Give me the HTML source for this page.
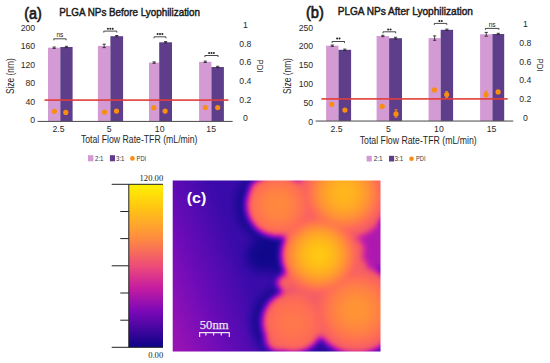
<!DOCTYPE html>
<html><head><meta charset="utf-8"><style>
html,body{margin:0;padding:0;background:#fff;width:550px;height:363px;overflow:hidden}
svg{display:block}
</style></head><body>
<svg width="550" height="363" viewBox="0 0 550 363">
<rect width="550" height="363" fill="#fff"/>
<text x="24.2" y="18.6" font-size="16.2" text-anchor="start" font-weight="normal" fill="#1a1a1a" font-family="'Liberation Sans',sans-serif" textLength="17.6" lengthAdjust="spacingAndGlyphs" stroke="#1a1a1a" stroke-width="0.7">(a)</text>
<text x="59.3" y="15.8" font-size="10.6" text-anchor="start" font-weight="normal" fill="#1a1a1a" font-family="'Liberation Sans',sans-serif" textLength="140.7" lengthAdjust="spacingAndGlyphs" stroke="#1a1a1a" stroke-width="0.45">PLGA NPs Before Lyophilization</text>
<text x="35.2" y="123.39999999999999" font-size="8.7" text-anchor="end" font-weight="normal" fill="#2a2a2a" font-family="'Liberation Sans',sans-serif" >0</text>
<text x="35.2" y="104.85999999999999" font-size="8.7" text-anchor="end" font-weight="normal" fill="#2a2a2a" font-family="'Liberation Sans',sans-serif" >40</text>
<text x="35.2" y="86.32" font-size="8.7" text-anchor="end" font-weight="normal" fill="#2a2a2a" font-family="'Liberation Sans',sans-serif" >80</text>
<text x="35.2" y="67.78" font-size="8.7" text-anchor="end" font-weight="normal" fill="#2a2a2a" font-family="'Liberation Sans',sans-serif" >120</text>
<text x="35.2" y="49.24" font-size="8.7" text-anchor="end" font-weight="normal" fill="#2a2a2a" font-family="'Liberation Sans',sans-serif" >160</text>
<text x="35.2" y="30.70000000000001" font-size="8.7" text-anchor="end" font-weight="normal" fill="#2a2a2a" font-family="'Liberation Sans',sans-serif" >200</text>
<text x="245.4" y="121.1" font-size="8.7" text-anchor="middle" font-weight="normal" fill="#2a2a2a" font-family="'Liberation Sans',sans-serif" >0</text>
<text x="245.4" y="102.55" font-size="8.7" text-anchor="middle" font-weight="normal" fill="#2a2a2a" font-family="'Liberation Sans',sans-serif" >0.2</text>
<text x="245.4" y="84.0" font-size="8.7" text-anchor="middle" font-weight="normal" fill="#2a2a2a" font-family="'Liberation Sans',sans-serif" >0.4</text>
<text x="245.4" y="65.44999999999999" font-size="8.7" text-anchor="middle" font-weight="normal" fill="#2a2a2a" font-family="'Liberation Sans',sans-serif" >0.6</text>
<text x="245.4" y="46.9" font-size="8.7" text-anchor="middle" font-weight="normal" fill="#2a2a2a" font-family="'Liberation Sans',sans-serif" >0.8</text>
<text x="245.4" y="28.35" font-size="8.7" text-anchor="middle" font-weight="normal" fill="#2a2a2a" font-family="'Liberation Sans',sans-serif" >1</text>
<text x="0" y="0" font-size="10.4" text-anchor="middle" fill="#2a2a2a" font-family="'Liberation Sans',sans-serif" textLength="35.8" lengthAdjust="spacingAndGlyphs" transform="translate(13.9,76.2) rotate(-90)">Size (nm)</text>
<text x="0" y="0" font-size="9.8" text-anchor="middle" fill="#2a2a2a" font-family="'Liberation Sans',sans-serif" textLength="13" lengthAdjust="spacingAndGlyphs" transform="translate(257.4,66) rotate(90)">PDI</text>
<rect x="48" y="47.7" width="12.299999999999997" height="73.7" fill="#d39ad3"/>
<rect x="97.9" y="45.9" width="12.5" height="75.5" fill="#d39ad3"/>
<rect x="149" y="62.6" width="10.199999999999989" height="58.800000000000004" fill="#d39ad3"/>
<rect x="199.1" y="61.8" width="12.300000000000011" height="59.60000000000001" fill="#d39ad3"/>
<rect x="60.3" y="47" width="12.299999999999997" height="74.4" fill="#5e3e8a"/>
<rect x="110.4" y="36.2" width="12.699999999999989" height="85.2" fill="#5e3e8a"/>
<rect x="159.2" y="42.3" width="12.800000000000011" height="79.10000000000001" fill="#5e3e8a"/>
<rect x="211.4" y="67" width="12.5" height="54.400000000000006" fill="#5e3e8a"/>
<path d="M52.55 47.0H55.75M54.15 47.0V48.400000000000006M52.55 48.400000000000006H55.75" stroke="#2a2a2a" stroke-width="0.9" fill="none"/>
<path d="M102.55000000000001 44.199999999999996H105.75M104.15 44.199999999999996V47.6M102.55000000000001 47.6H105.75" stroke="#2a2a2a" stroke-width="0.9" fill="none"/>
<path d="M152.5 61.9H155.7M154.1 61.9V63.300000000000004M152.5 63.300000000000004H155.7" stroke="#2a2a2a" stroke-width="0.9" fill="none"/>
<path d="M203.65 61.099999999999994H206.85M205.25 61.099999999999994V62.5M203.65 62.5H206.85" stroke="#2a2a2a" stroke-width="0.9" fill="none"/>
<path d="M64.85 46.3H68.04999999999998M66.44999999999999 46.3V47.7M64.85 47.7H68.04999999999998" stroke="#2a2a2a" stroke-width="0.9" fill="none"/>
<path d="M115.15 35.5H118.35M116.75 35.5V36.900000000000006M115.15 36.900000000000006H118.35" stroke="#2a2a2a" stroke-width="0.9" fill="none"/>
<path d="M164.0 41.599999999999994H167.2M165.6 41.599999999999994V43.0M164.0 43.0H167.2" stroke="#2a2a2a" stroke-width="0.9" fill="none"/>
<path d="M216.05 66.3H219.25M217.65 66.3V67.7M216.05 67.7H219.25" stroke="#2a2a2a" stroke-width="0.9" fill="none"/>
<rect x="37.5" y="120.9" width="195.1" height="1.1" fill="#595959"/>
<rect x="44.5" y="99.3" width="183.9" height="1.6" fill="#e23d3a"/>
<circle cx="54.4" cy="111.3" r="2.6" fill="#f98d12"/>
<circle cx="65.8" cy="112.4" r="2.6" fill="#f98d12"/>
<circle cx="104.5" cy="112.1" r="2.6" fill="#f98d12"/>
<circle cx="116.5" cy="111.1" r="2.6" fill="#f98d12"/>
<circle cx="153.9" cy="107.7" r="2.6" fill="#f98d12"/>
<circle cx="165.1" cy="111.1" r="2.6" fill="#f98d12"/>
<circle cx="205.3" cy="107.6" r="2.6" fill="#f98d12"/>
<circle cx="217.7" cy="107.6" r="2.6" fill="#f98d12"/>
<path d="M53.8 40.3V38.8H66.1V40.3" stroke="#333" stroke-width="0.9" fill="none"/>
<text x="59.949999999999996" y="36.6" font-size="6.6" text-anchor="middle" font-weight="normal" fill="#222" font-family="'Liberation Sans',sans-serif" >ns</text>
<path d="M103.8 32.6V31.1H116.8V32.6" stroke="#333" stroke-width="0.9" fill="none"/>
<circle cx="107.89999999999999" cy="28.8" r="1.0" fill="#222"/>
<circle cx="110.3" cy="28.8" r="1.0" fill="#222"/>
<circle cx="112.7" cy="28.8" r="1.0" fill="#222"/>
<path d="M154.1 38.3V36.8H165.9V38.3" stroke="#333" stroke-width="0.9" fill="none"/>
<circle cx="157.6" cy="34.099999999999994" r="1.0" fill="#222"/>
<circle cx="160.0" cy="34.099999999999994" r="1.0" fill="#222"/>
<circle cx="162.4" cy="34.099999999999994" r="1.0" fill="#222"/>
<path d="M204.9 57.0V55.5H218.1V57.0" stroke="#333" stroke-width="0.9" fill="none"/>
<circle cx="209.1" cy="53.0" r="1.0" fill="#222"/>
<circle cx="211.5" cy="53.0" r="1.0" fill="#222"/>
<circle cx="213.9" cy="53.0" r="1.0" fill="#222"/>
<text x="58.5" y="132.0" font-size="8.7" text-anchor="middle" font-weight="normal" fill="#2a2a2a" font-family="'Liberation Sans',sans-serif" >2.5</text>
<text x="109.1" y="132.0" font-size="8.7" text-anchor="middle" font-weight="normal" fill="#2a2a2a" font-family="'Liberation Sans',sans-serif" >5</text>
<text x="159.7" y="132.0" font-size="8.7" text-anchor="middle" font-weight="normal" fill="#2a2a2a" font-family="'Liberation Sans',sans-serif" >10</text>
<text x="211.2" y="132.0" font-size="8.7" text-anchor="middle" font-weight="normal" fill="#2a2a2a" font-family="'Liberation Sans',sans-serif" >15</text>
<text x="80.9" y="143.0" font-size="10.5" text-anchor="start" font-weight="normal" fill="#262626" font-family="'Liberation Sans',sans-serif" textLength="116.6" lengthAdjust="spacingAndGlyphs" >Total Flow Rate-TFR (mL/min)</text>
<rect x="88" y="155.2" width="5.400000000000006" height="6.100000000000023" fill="#d39ad3"/>
<rect x="109.9" y="155.2" width="5.099999999999994" height="6.100000000000023" fill="#5e3e8a"/>
<circle cx="132.4" cy="158.4" r="2.3" fill="#f98d12"/>
<text x="95" y="161" font-size="6.6" text-anchor="start" font-weight="normal" fill="#333" font-family="'Liberation Sans',sans-serif" textLength="8.5" lengthAdjust="spacingAndGlyphs" >2:1</text>
<text x="116" y="161" font-size="6.6" text-anchor="start" font-weight="normal" fill="#333" font-family="'Liberation Sans',sans-serif" textLength="8.5" lengthAdjust="spacingAndGlyphs" >3:1</text>
<text x="136.6" y="161" font-size="6.6" text-anchor="start" font-weight="normal" fill="#333" font-family="'Liberation Sans',sans-serif" textLength="9.599999999999994" lengthAdjust="spacingAndGlyphs" >PDI</text>
<text x="305.9" y="18.4" font-size="16.2" text-anchor="start" font-weight="normal" fill="#1a1a1a" font-family="'Liberation Sans',sans-serif" textLength="17.9" lengthAdjust="spacingAndGlyphs" stroke="#1a1a1a" stroke-width="0.7">(b)</text>
<text x="337.7" y="14.7" font-size="10.6" text-anchor="start" font-weight="normal" fill="#1a1a1a" font-family="'Liberation Sans',sans-serif" textLength="135.2" lengthAdjust="spacingAndGlyphs" stroke="#1a1a1a" stroke-width="0.45">PLGA NPs After Lyophilization</text>
<text x="313.2" y="124.5" font-size="8.7" text-anchor="end" font-weight="normal" fill="#2a2a2a" font-family="'Liberation Sans',sans-serif" >0</text>
<text x="313.2" y="105.7" font-size="8.7" text-anchor="end" font-weight="normal" fill="#2a2a2a" font-family="'Liberation Sans',sans-serif" >50</text>
<text x="313.2" y="86.9" font-size="8.7" text-anchor="end" font-weight="normal" fill="#2a2a2a" font-family="'Liberation Sans',sans-serif" >100</text>
<text x="313.2" y="68.1" font-size="8.7" text-anchor="end" font-weight="normal" fill="#2a2a2a" font-family="'Liberation Sans',sans-serif" >150</text>
<text x="313.2" y="49.300000000000004" font-size="8.7" text-anchor="end" font-weight="normal" fill="#2a2a2a" font-family="'Liberation Sans',sans-serif" >200</text>
<text x="313.2" y="30.500000000000007" font-size="8.7" text-anchor="end" font-weight="normal" fill="#2a2a2a" font-family="'Liberation Sans',sans-serif" >250</text>
<text x="525.3" y="121.1" font-size="8.7" text-anchor="middle" font-weight="normal" fill="#2a2a2a" font-family="'Liberation Sans',sans-serif" >0</text>
<text x="525.3" y="102.28" font-size="8.7" text-anchor="middle" font-weight="normal" fill="#2a2a2a" font-family="'Liberation Sans',sans-serif" >0.2</text>
<text x="525.3" y="83.46" font-size="8.7" text-anchor="middle" font-weight="normal" fill="#2a2a2a" font-family="'Liberation Sans',sans-serif" >0.4</text>
<text x="525.3" y="64.64" font-size="8.7" text-anchor="middle" font-weight="normal" fill="#2a2a2a" font-family="'Liberation Sans',sans-serif" >0.6</text>
<text x="525.3" y="45.82" font-size="8.7" text-anchor="middle" font-weight="normal" fill="#2a2a2a" font-family="'Liberation Sans',sans-serif" >0.8</text>
<text x="525.3" y="27.000000000000007" font-size="8.7" text-anchor="middle" font-weight="normal" fill="#2a2a2a" font-family="'Liberation Sans',sans-serif" >1</text>
<text x="0" y="0" font-size="10.4" text-anchor="middle" fill="#2a2a2a" font-family="'Liberation Sans',sans-serif" textLength="35.8" lengthAdjust="spacingAndGlyphs" transform="translate(291.4,76) rotate(-90)">Size (nm)</text>
<text x="0" y="0" font-size="9.8" text-anchor="middle" fill="#2a2a2a" font-family="'Liberation Sans',sans-serif" textLength="13" lengthAdjust="spacingAndGlyphs" transform="translate(537.4000000000001,65) rotate(90)">PDI</text>
<rect x="326.1" y="45.7" width="12.399999999999977" height="75.3" fill="#d39ad3"/>
<rect x="376.6" y="36" width="12.5" height="85.0" fill="#d39ad3"/>
<rect x="428.6" y="38.1" width="12.099999999999966" height="82.9" fill="#d39ad3"/>
<rect x="480.1" y="34.3" width="12.299999999999955" height="86.7" fill="#d39ad3"/>
<rect x="338.5" y="49.8" width="12.600000000000023" height="71.2" fill="#5e3e8a"/>
<rect x="389.1" y="38.2" width="12.899999999999977" height="82.8" fill="#5e3e8a"/>
<rect x="440.7" y="29.8" width="12.400000000000034" height="91.2" fill="#5e3e8a"/>
<rect x="492.4" y="34" width="11.800000000000011" height="87.0" fill="#5e3e8a"/>
<path d="M330.7 45.0H333.90000000000003M332.3 45.0V46.400000000000006M330.7 46.400000000000006H333.90000000000003" stroke="#2a2a2a" stroke-width="0.9" fill="none"/>
<path d="M381.25 35.3H384.45000000000005M382.85 35.3V36.7M381.25 36.7H384.45000000000005" stroke="#2a2a2a" stroke-width="0.9" fill="none"/>
<path d="M433.04999999999995 35.9H436.25M434.65 35.9V40.300000000000004M433.04999999999995 40.300000000000004H436.25" stroke="#2a2a2a" stroke-width="0.9" fill="none"/>
<path d="M484.65 32.4H487.85M486.25 32.4V36.199999999999996M484.65 36.199999999999996H487.85" stroke="#2a2a2a" stroke-width="0.9" fill="none"/>
<path d="M343.2 49.099999999999994H346.40000000000003M344.8 49.099999999999994V50.5M343.2 50.5H346.40000000000003" stroke="#2a2a2a" stroke-width="0.9" fill="none"/>
<path d="M393.95 37.300000000000004H397.15000000000003M395.55 37.300000000000004V39.1M393.95 39.1H397.15000000000003" stroke="#2a2a2a" stroke-width="0.9" fill="none"/>
<path d="M445.29999999999995 29.1H448.5M446.9 29.1V30.5M445.29999999999995 30.5H448.5" stroke="#2a2a2a" stroke-width="0.9" fill="none"/>
<path d="M496.69999999999993 33.3H499.9M498.29999999999995 33.3V34.7M496.69999999999993 34.7H499.9" stroke="#2a2a2a" stroke-width="0.9" fill="none"/>
<rect x="315.6" y="120.5" width="197.69999999999993" height="1.1" fill="#595959"/>
<rect x="321.4" y="98.10000000000001" width="186.3" height="1.6" fill="#e23d3a"/>
<circle cx="331.7" cy="104.3" r="2.6" fill="#f98d12"/>
<circle cx="344.9" cy="110.1" r="2.6" fill="#f98d12"/>
<circle cx="382.2" cy="106.4" r="2.6" fill="#f98d12"/>
<path d="M394.5 109.8H397.5M396 109.8V117.2M394.5 117.2H397.5" stroke="#f98d12" stroke-width="0.9" fill="none"/>
<circle cx="396" cy="113.9" r="2.6" fill="#f98d12"/>
<circle cx="434.5" cy="89.9" r="2.6" fill="#f98d12"/>
<path d="M445.2 91.6H448.2M446.7 91.6V97.4M445.2 97.4H448.2" stroke="#f98d12" stroke-width="0.9" fill="none"/>
<circle cx="446.7" cy="94.5" r="2.6" fill="#f98d12"/>
<path d="M484.5 91.2H487.5M486 91.2V97M484.5 97H487.5" stroke="#f98d12" stroke-width="0.9" fill="none"/>
<circle cx="486" cy="94.5" r="2.6" fill="#f98d12"/>
<circle cx="498.1" cy="91.9" r="2.6" fill="#f98d12"/>
<path d="M332.1 43.0V41.5H344.5V43.0" stroke="#333" stroke-width="0.9" fill="none"/>
<circle cx="337.1" cy="38.5" r="1.0" fill="#222"/>
<circle cx="339.5" cy="38.5" r="1.0" fill="#222"/>
<path d="M383 33.3V31.8H395.7V33.3" stroke="#333" stroke-width="0.9" fill="none"/>
<circle cx="388.15000000000003" cy="29.400000000000002" r="1.0" fill="#222"/>
<circle cx="390.55" cy="29.400000000000002" r="1.0" fill="#222"/>
<path d="M434.3 24.9V23.4H446.8V24.9" stroke="#333" stroke-width="0.9" fill="none"/>
<circle cx="439.35" cy="21.0" r="1.0" fill="#222"/>
<circle cx="441.75" cy="21.0" r="1.0" fill="#222"/>
<path d="M485.4 29.9V28.4H498.9V29.9" stroke="#333" stroke-width="0.9" fill="none"/>
<text x="492.15" y="27.3" font-size="6.6" text-anchor="middle" font-weight="normal" fill="#222" font-family="'Liberation Sans',sans-serif" >ns</text>
<text x="336.5" y="132.4" font-size="8.7" text-anchor="middle" font-weight="normal" fill="#2a2a2a" font-family="'Liberation Sans',sans-serif" >2.5</text>
<text x="388.3" y="132.4" font-size="8.7" text-anchor="middle" font-weight="normal" fill="#2a2a2a" font-family="'Liberation Sans',sans-serif" >5</text>
<text x="438.9" y="132.4" font-size="8.7" text-anchor="middle" font-weight="normal" fill="#2a2a2a" font-family="'Liberation Sans',sans-serif" >10</text>
<text x="491.5" y="132.4" font-size="8.7" text-anchor="middle" font-weight="normal" fill="#2a2a2a" font-family="'Liberation Sans',sans-serif" >15</text>
<text x="359.7" y="143.8" font-size="10.5" text-anchor="start" font-weight="normal" fill="#262626" font-family="'Liberation Sans',sans-serif" textLength="117" lengthAdjust="spacingAndGlyphs" >Total Flow Rate-TFR (mL/min)</text>
<rect x="366.6" y="155.8" width="5.199999999999989" height="5.699999999999989" fill="#d39ad3"/>
<rect x="389" y="155.8" width="5.100000000000023" height="5.699999999999989" fill="#5e3e8a"/>
<circle cx="411.5" cy="158.7" r="2.3" fill="#f98d12"/>
<text x="373.7" y="161.2" font-size="6.6" text-anchor="start" font-weight="normal" fill="#333" font-family="'Liberation Sans',sans-serif" textLength="9.0" lengthAdjust="spacingAndGlyphs" >2:1</text>
<text x="394.6" y="161.2" font-size="6.6" text-anchor="start" font-weight="normal" fill="#333" font-family="'Liberation Sans',sans-serif" textLength="8.699999999999989" lengthAdjust="spacingAndGlyphs" >3:1</text>
<text x="416" y="161.2" font-size="6.6" text-anchor="start" font-weight="normal" fill="#333" font-family="'Liberation Sans',sans-serif" textLength="9.5" lengthAdjust="spacingAndGlyphs" >PDI</text>
<defs>
<linearGradient id="cb" x1="0" y1="0" x2="0" y2="1">
<stop offset="0" stop-color="#fff200"/>
<stop offset="0.15" stop-color="#ffc414"/>
<stop offset="0.33" stop-color="#ff8c40"/>
<stop offset="0.5" stop-color="#ee4c78"/>
<stop offset="0.63" stop-color="#c81ea0"/>
<stop offset="0.78" stop-color="#7a08b8"/>
<stop offset="1" stop-color="#0c0486"/>
</linearGradient>
</defs>
<rect x="128.8" y="184.3" width="34.2" height="163" fill="url(#cb)"/>
<path d="M128.8 184.3V347.3" stroke="#222" stroke-width="1"/>
<path d="M111.7 184.3H163" stroke="#222" stroke-width="1"/>
<path d="M111.7 265.8H128.8" stroke="#222" stroke-width="1"/>
<path d="M111.7 347.3H163" stroke="#222" stroke-width="1"/>
<path d="M120.3 211.5H128.8" stroke="#222" stroke-width="1"/>
<path d="M120.3 238.6H128.8" stroke="#222" stroke-width="1"/>
<path d="M120.3 293H128.8" stroke="#222" stroke-width="1"/>
<path d="M120.3 320.2H128.8" stroke="#222" stroke-width="1"/>
<text x="163.2" y="180.6" font-size="8.6" text-anchor="end" font-weight="normal" fill="#222" font-family="'Liberation Serif',serif" >120.00</text>
<text x="163.2" y="358.4" font-size="8.6" text-anchor="end" font-weight="normal" fill="#222" font-family="'Liberation Serif',serif" >0.00</text>

<defs>
<clipPath id="afmclip"><rect x="172.7" y="180.5" width="207.8" height="171.1"/></clipPath>
<linearGradient id="bg" x1="175" y1="330" x2="255" y2="300" gradientUnits="userSpaceOnUse">
<stop offset="0" stop-color="rgb(71,71,71)"/>
<stop offset="0.5" stop-color="rgb(48,48,48)"/>
<stop offset="1" stop-color="rgb(26,26,26)"/>
</linearGradient>
<radialGradient id="dA" cx="278" cy="205" r="31" gradientUnits="userSpaceOnUse"><stop offset="0.00" stop-color="rgb(173,173,173)"/><stop offset="0.05" stop-color="rgb(173,173,173)"/><stop offset="0.10" stop-color="rgb(173,173,173)"/><stop offset="0.15" stop-color="rgb(173,173,173)"/><stop offset="0.20" stop-color="rgb(172,172,172)"/><stop offset="0.25" stop-color="rgb(171,171,171)"/><stop offset="0.30" stop-color="rgb(171,171,171)"/><stop offset="0.35" stop-color="rgb(170,170,170)"/><stop offset="0.40" stop-color="rgb(169,169,169)"/><stop offset="0.45" stop-color="rgb(167,167,167)"/><stop offset="0.50" stop-color="rgb(166,166,166)"/><stop offset="0.55" stop-color="rgb(164,164,164)"/><stop offset="0.60" stop-color="rgb(162,162,162)"/><stop offset="0.65" stop-color="rgb(160,160,160)"/><stop offset="0.70" stop-color="rgb(158,158,158)"/><stop offset="0.75" stop-color="rgb(156,156,156)"/><stop offset="0.80" stop-color="rgb(154,154,154)"/><stop offset="0.85" stop-color="rgb(151,151,151)"/><stop offset="0.90" stop-color="rgb(149,149,149)"/><stop offset="0.95" stop-color="rgb(146,146,146)"/><stop offset="1.00" stop-color="rgb(143,143,143)"/></radialGradient><radialGradient id="dB" cx="344" cy="193" r="38" gradientUnits="userSpaceOnUse"><stop offset="0.00" stop-color="rgb(207,207,207)"/><stop offset="0.05" stop-color="rgb(206,206,206)"/><stop offset="0.10" stop-color="rgb(206,206,206)"/><stop offset="0.15" stop-color="rgb(205,205,205)"/><stop offset="0.20" stop-color="rgb(204,204,204)"/><stop offset="0.25" stop-color="rgb(203,203,203)"/><stop offset="0.30" stop-color="rgb(201,201,201)"/><stop offset="0.35" stop-color="rgb(199,199,199)"/><stop offset="0.40" stop-color="rgb(196,196,196)"/><stop offset="0.45" stop-color="rgb(194,194,194)"/><stop offset="0.50" stop-color="rgb(191,191,191)"/><stop offset="0.55" stop-color="rgb(187,187,187)"/><stop offset="0.60" stop-color="rgb(184,184,184)"/><stop offset="0.65" stop-color="rgb(180,180,180)"/><stop offset="0.70" stop-color="rgb(175,175,175)"/><stop offset="0.75" stop-color="rgb(171,171,171)"/><stop offset="0.80" stop-color="rgb(166,166,166)"/><stop offset="0.85" stop-color="rgb(160,160,160)"/><stop offset="0.90" stop-color="rgb(155,155,155)"/><stop offset="0.95" stop-color="rgb(149,149,149)"/><stop offset="1.00" stop-color="rgb(143,143,143)"/></radialGradient><radialGradient id="dC" cx="319" cy="255" r="37" gradientUnits="userSpaceOnUse"><stop offset="0.00" stop-color="rgb(219,219,219)"/><stop offset="0.05" stop-color="rgb(219,219,219)"/><stop offset="0.10" stop-color="rgb(219,219,219)"/><stop offset="0.15" stop-color="rgb(218,218,218)"/><stop offset="0.20" stop-color="rgb(216,216,216)"/><stop offset="0.25" stop-color="rgb(215,215,215)"/><stop offset="0.30" stop-color="rgb(212,212,212)"/><stop offset="0.35" stop-color="rgb(210,210,210)"/><stop offset="0.40" stop-color="rgb(207,207,207)"/><stop offset="0.45" stop-color="rgb(204,204,204)"/><stop offset="0.50" stop-color="rgb(200,200,200)"/><stop offset="0.55" stop-color="rgb(196,196,196)"/><stop offset="0.60" stop-color="rgb(192,192,192)"/><stop offset="0.65" stop-color="rgb(187,187,187)"/><stop offset="0.70" stop-color="rgb(182,182,182)"/><stop offset="0.75" stop-color="rgb(176,176,176)"/><stop offset="0.80" stop-color="rgb(170,170,170)"/><stop offset="0.85" stop-color="rgb(164,164,164)"/><stop offset="0.90" stop-color="rgb(157,157,157)"/><stop offset="0.95" stop-color="rgb(150,150,150)"/><stop offset="1.00" stop-color="rgb(143,143,143)"/></radialGradient><radialGradient id="dD" cx="293" cy="322" r="30" gradientUnits="userSpaceOnUse"><stop offset="0.00" stop-color="rgb(161,161,161)"/><stop offset="0.05" stop-color="rgb(161,161,161)"/><stop offset="0.10" stop-color="rgb(160,160,160)"/><stop offset="0.15" stop-color="rgb(160,160,160)"/><stop offset="0.20" stop-color="rgb(160,160,160)"/><stop offset="0.25" stop-color="rgb(160,160,160)"/><stop offset="0.30" stop-color="rgb(159,159,159)"/><stop offset="0.35" stop-color="rgb(158,158,158)"/><stop offset="0.40" stop-color="rgb(158,158,158)"/><stop offset="0.45" stop-color="rgb(157,157,157)"/><stop offset="0.50" stop-color="rgb(156,156,156)"/><stop offset="0.55" stop-color="rgb(155,155,155)"/><stop offset="0.60" stop-color="rgb(154,154,154)"/><stop offset="0.65" stop-color="rgb(153,153,153)"/><stop offset="0.70" stop-color="rgb(152,152,152)"/><stop offset="0.75" stop-color="rgb(151,151,151)"/><stop offset="0.80" stop-color="rgb(149,149,149)"/><stop offset="0.85" stop-color="rgb(148,148,148)"/><stop offset="0.90" stop-color="rgb(146,146,146)"/><stop offset="0.95" stop-color="rgb(145,145,145)"/><stop offset="1.00" stop-color="rgb(143,143,143)"/></radialGradient><radialGradient id="dE" cx="356" cy="310" r="37" gradientUnits="userSpaceOnUse"><stop offset="0.00" stop-color="rgb(181,181,181)"/><stop offset="0.05" stop-color="rgb(181,181,181)"/><stop offset="0.10" stop-color="rgb(181,181,181)"/><stop offset="0.15" stop-color="rgb(180,180,180)"/><stop offset="0.20" stop-color="rgb(180,180,180)"/><stop offset="0.25" stop-color="rgb(179,179,179)"/><stop offset="0.30" stop-color="rgb(178,178,178)"/><stop offset="0.35" stop-color="rgb(176,176,176)"/><stop offset="0.40" stop-color="rgb(175,175,175)"/><stop offset="0.45" stop-color="rgb(173,173,173)"/><stop offset="0.50" stop-color="rgb(171,171,171)"/><stop offset="0.55" stop-color="rgb(169,169,169)"/><stop offset="0.60" stop-color="rgb(167,167,167)"/><stop offset="0.65" stop-color="rgb(165,165,165)"/><stop offset="0.70" stop-color="rgb(162,162,162)"/><stop offset="0.75" stop-color="rgb(160,160,160)"/><stop offset="0.80" stop-color="rgb(157,157,157)"/><stop offset="0.85" stop-color="rgb(153,153,153)"/><stop offset="0.90" stop-color="rgb(150,150,150)"/><stop offset="0.95" stop-color="rgb(147,147,147)"/><stop offset="1.00" stop-color="rgb(143,143,143)"/></radialGradient>
<filter id="cmap" x="172.7" y="180.5" width="207.8" height="171.1" filterUnits="userSpaceOnUse" color-interpolation-filters="sRGB">
<feGaussianBlur stdDeviation="3.2"/>
<feComponentTransfer>
<feFuncR type="table" tableValues="0.063 0.227 0.431 0.627 0.804 0.922 1.000 1.000 1.000 1.000 0.980"/>
<feFuncG type="table" tableValues="0.031 0.047 0.047 0.078 0.157 0.294 0.431 0.569 0.706 0.843 0.941"/>
<feFuncB type="table" tableValues="0.549 0.667 0.725 0.706 0.627 0.471 0.333 0.216 0.118 0.039 0.000"/>
</feComponentTransfer>
</filter>
<filter id="hb" x="-50%" y="-50%" width="200%" height="200%"><feGaussianBlur stdDeviation="4"/></filter>
</defs>
<g clip-path="url(#afmclip)">
<g filter="url(#cmap)">
<rect x="160" y="170" width="230" height="190" fill="url(#bg)"/>
<g filter="url(#hb)"><circle cx="274" cy="205" r="38" fill="rgb(5,5,5)"/><circle cx="315" cy="255" r="44" fill="rgb(5,5,5)"/><circle cx="289" cy="322" r="37" fill="rgb(5,5,5)"/><circle cx="325" cy="357" r="7" fill="rgb(5,5,5)"/><circle cx="262" cy="256" r="16" fill="rgb(5,5,5)"/></g><ellipse cx="376" cy="246" rx="20" ry="23" fill="rgb(84,84,84)"/>
<circle cx="278" cy="205" r="32" fill="rgb(143,143,143)"/><circle cx="344" cy="193" r="46" fill="rgb(143,143,143)"/><circle cx="319" cy="255" r="38" fill="rgb(143,143,143)"/><circle cx="293" cy="322" r="31" fill="rgb(143,143,143)"/><circle cx="356" cy="310" r="44" fill="rgb(143,143,143)"/><circle cx="300" cy="232" r="16" fill="rgb(143,143,143)"/><circle cx="336" cy="228" r="14" fill="rgb(143,143,143)"/><circle cx="306" cy="286" r="14" fill="rgb(143,143,143)"/><circle cx="338" cy="288" r="14" fill="rgb(143,143,143)"/><circle cx="324" cy="300" r="10" fill="rgb(143,143,143)"/><circle cx="262" cy="192" r="13" fill="rgb(143,143,143)"/><circle cx="279" cy="338" r="14" fill="rgb(143,143,143)"/><circle cx="351" cy="250" r="13" fill="rgb(143,143,143)"/><circle cx="358" cy="266" r="9" fill="rgb(143,143,143)"/><circle cx="286" cy="283" r="9" fill="rgb(143,143,143)"/>
<circle cx="278" cy="205" r="31" fill="url(#dA)" style="mix-blend-mode:lighten"/><circle cx="344" cy="193" r="38" fill="url(#dB)" style="mix-blend-mode:lighten"/><circle cx="319" cy="255" r="37" fill="url(#dC)" style="mix-blend-mode:lighten"/><circle cx="293" cy="322" r="30" fill="url(#dD)" style="mix-blend-mode:lighten"/><circle cx="356" cy="310" r="37" fill="url(#dE)" style="mix-blend-mode:lighten"/>
</g>
</g>
<text x="186.8" y="202.7" font-size="15" font-weight="bold" fill="#fff" font-family="'Liberation Sans',sans-serif" textLength="19.5" lengthAdjust="spacingAndGlyphs">(c)</text>
<text x="199.8" y="329.4" font-size="13.4" fill="#ece4f4" stroke="#ece4f4" stroke-width="0.25" font-family="'Liberation Serif',serif" textLength="28.7" lengthAdjust="spacingAndGlyphs">50nm</text>
<path d="M199.6 337V332.6H229.3V337M205.9 332.6V335.5M213.6 332.6V335.5M221.3 332.6V335.5" stroke="#ece4f4" stroke-width="1.2" fill="none"/>

</svg>
</body></html>
